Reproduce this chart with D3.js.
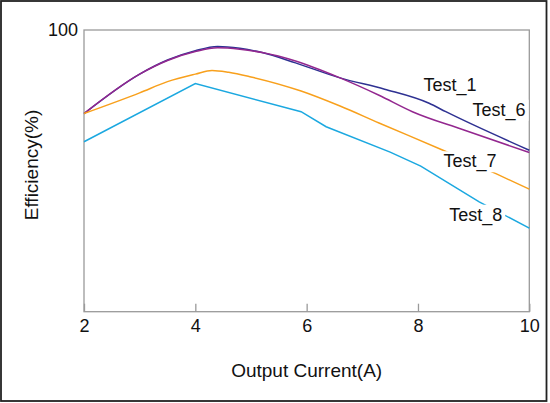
<!DOCTYPE html>
<html>
<head>
<meta charset="utf-8">
<script src="https://cdn.jsdelivr.net/npm/d3@7"></script>
<style>
  body { margin: 0; background: #fff; }
  text { font-family: "Liberation Sans", Arial, sans-serif; fill: #111; }
</style>
</head>
<body>
<svg id="chart" width="550" height="403"></svg>
<script>
// data (x = output current A, y = efficiency %)
const xTicks = [2, 4, 6, 8, 10];
const yTicks = [100];

const current1 = [2, 3, 3.5, 4, 4.4, 4.8, 5.2, 5.8, 6.6, 7.4, 8.2, 8.5, 10];
const test1    = [91.1, 95.3, 96.8, 97.8, 98.25, 98.05, 97.6, 96.5, 94.9, 93.7, 92.2, 91.3, 87.2];

const current6 = [2, 3, 3.5, 4, 4.4, 4.8, 5.2, 5.8, 6.6, 7.3, 7.9, 8.8, 10];
const test6    = [91.1, 95.3, 96.75, 97.7, 98.1, 97.95, 97.6, 96.7, 94.9, 93.05, 91.3, 89.4, 86.95];

const current7 = [2, 3, 3.5, 4, 4.3, 4.6, 5, 5.9, 6.6, 7.3, 8.45, 9.4, 10];
const test7    = [91.1, 93.3, 94.5, 95.3, 95.7, 95.5, 95.0, 93.5, 91.9, 90.1, 87.2, 84.7, 83.05];

const current8 = [2, 4, 5.9, 6.35, 7.5, 8.05, 9.1, 10];
const test8    = [88.1, 94.3, 91.3, 89.7, 87.0, 85.5, 81.7, 78.9];

const seriesNames = ["Test_1", "Test_6", "Test_7", "Test_8"];
// label anchor (start of text, baseline) in data units
const labelX = [8.1, 8.98, 8.46, 8.56];
const labelY = [93.54, 90.87, 85.38, 79.69];

const width = 550, height = 403;
const margin = {left: 84, top: 30, right: 20.7, bottom: 91.3};

var svg = d3.select("#chart");

// outer frame of the figure
svg.append("rect")
    .attr("x", 1).attr("y", 1)
    .attr("width", 545.5).attr("height", 400)
    .attr("fill", "none")
    .attr("stroke", "#222")
    .attr("stroke-width", 1.8);

var x = d3.scaleLinear().domain([2, 10]).range([margin.left, width - margin.right]);
var y = d3.scaleLinear().domain([70, 100]).range([height - margin.bottom, margin.top]);

// plot box
svg.append("rect")
    .attr("x", x(2)).attr("y", y(100))
    .attr("width", x(10) - x(2)).attr("height", y(70) - y(100))
    .attr("fill", "none")
    .attr("stroke", "#9a9a9a")
    .attr("stroke-width", 1.3);

// x axis, ticks point inwards
var xAxis = svg.append("g")
    .attr("transform", "translate(0," + y(70) + ")")
    .call(d3.axisBottom(x).tickValues(xTicks).tickSizeInner(-8).tickSizeOuter(0).tickPadding(8));
xAxis.select(".domain").remove();
xAxis.selectAll("line").attr("stroke", "#9a9a9a").attr("stroke-width", 1.3);
xAxis.selectAll("text").style("font-size", "18px").attr("fill", "#111")
    .style("font-family", "'Liberation Sans', Arial, sans-serif");

var yAxis = svg.append("g")
    .attr("transform", "translate(" + x(2) + ",0)")
    .call(d3.axisLeft(y).tickValues(yTicks).tickSize(0).tickPadding(6));
yAxis.select(".domain").remove();
yAxis.selectAll("text").style("font-size", "18px").attr("fill", "#111")
    .style("font-family", "'Liberation Sans', Arial, sans-serif");

// axis titles
svg.append("text")
    .attr("x", (x(2) + x(10)) / 2)
    .attr("y", 376.5)
    .attr("text-anchor", "middle")
    .style("font-size", "19px")
    .text("Output Current(A)");

svg.append("text")
    .attr("transform", "translate(38," + 165 + ") rotate(-90)")
    .attr("text-anchor", "middle")
    .style("font-size", "19px")
    .text("Efficiency(%)");

// series
var series = [
  {xs: current1, ys: test1, color: "#2e3192", curve: d3.curveMonotoneX},
  {xs: current6, ys: test6, color: "#93278f", curve: d3.curveMonotoneX},
  {xs: current7, ys: test7, color: "#f8a01c", curve: d3.curveMonotoneX},
  {xs: current8, ys: test8, color: "#1ba8e0", curve: d3.curveLinear}
];

series.forEach(function(s) {
  var pts = s.xs.map((v, i) => [v, s.ys[i]]);
  var line = d3.line().x(d => x(d[0])).y(d => y(d[1])).curve(s.curve);
  svg.append("path")
      .attr("d", line(pts))
      .attr("fill", "none")
      .attr("stroke", s.color)
      .attr("stroke-width", 1.5);
});

// labels with a white box that cuts the line under them
seriesNames.forEach(function(name, i) {
  var g = svg.append("g");
  var t = g.append("text")
      .attr("x", x(labelX[i]))
      .attr("y", y(labelY[i]))
      .style("font-size", "18px")
      .text(name);
  var bb = t.node().getBBox();
  g.insert("rect", "text")
      .attr("x", bb.x - 3).attr("y", bb.y)
      .attr("width", bb.width + 6).attr("height", bb.height)
      .attr("fill", "#fff");
});
</script>
</body>
</html>
